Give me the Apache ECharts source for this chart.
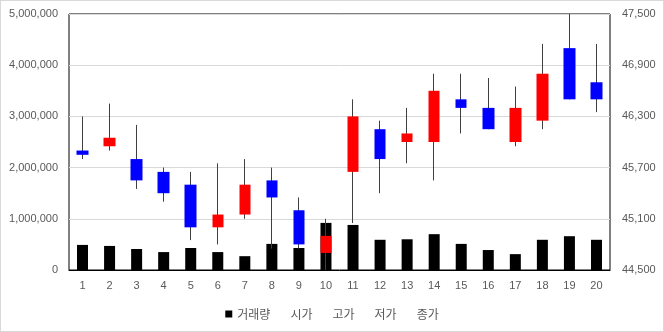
<!DOCTYPE html>
<html><head><meta charset="utf-8">
<script src="https://cdn.jsdelivr.net/npm/echarts@6/dist/echarts.min.js"></script>
<style>html,body{margin:0;padding:0;background:#fff}#c{width:662px;height:330px;border:1px solid #d9d9d9}</style>
</head><body><div id="c"></div>
<script>
const categories = ['1','2','3','4','5','6','7','8','9','10','11','12','13','14','15','16','17','18','19','20'];
const volume = [490000,470000,410000,350000,430000,350000,270000,510000,430000,920000,880000,590000,600000,700000,510000,390000,310000,590000,660000,590000];
const openP  = [45900,45950,45800,45650,45500,45000,45150,45550,45200,44700,45650,46150,46000,46000,46500,46400,46000,46250,47100,46700];
const highP  = [46300,46450,46200,45700,45650,45750,45800,45700,45350,45100,46500,46250,46400,46800,46800,46750,46650,47150,47500,47150];
const lowP   = [45800,45900,45450,45300,44850,44800,45100,44750,44750,44500,45050,45400,45750,45550,46100,46150,45950,46150,46500,46350];
const closeP = [45850,46050,45550,45400,45000,45150,45500,45350,44800,44900,46300,45800,46100,46600,46400,46150,46400,46800,46500,46500];
const legendNames = ['거래량','시가','고가','저가','종가'];

const wickData = categories.map((c,i)=>[openP[i],closeP[i],lowP[i],highP[i]]);
const bodyData = categories.map((c,i)=>[openP[i],closeP[i],Math.min(openP[i],closeP[i]),Math.max(openP[i],closeP[i])]);
const txt = '#595959';
const chart = echarts.init(document.getElementById('c'));
chart.setOption({
  animation:false,
  textStyle:{fontFamily:'"Noto Sans CJK KR", "Liberation Sans", sans-serif'},
  grid:{left:68,right:53,top:13,bottom:61,show:true,borderColor:'#000',borderWidth:1},
  legend:{
    bottom:6,left:'center',itemWidth:7,itemHeight:7,itemGap:8,
    textStyle:{color:txt,fontSize:12,fontFamily:'"Noto Sans CJK KR", sans-serif'},
    data:[
      {name:legendNames[0],icon:'rect'},
      {name:legendNames[1],icon:'none'},
      {name:legendNames[2],icon:'none'},
      {name:legendNames[3],icon:'none'},
      {name:legendNames[4],icon:'none'}
    ]
  },
  xAxis:{type:'category',data:categories,boundaryGap:true,
    axisLine:{lineStyle:{color:'#000'}},axisTick:{show:false},
    axisLabel:{color:txt,fontSize:11,margin:10,fontFamily:'"Liberation Sans", sans-serif'}},
  yAxis:[
    {type:'value',min:0,max:5000000,interval:1000000,
      axisLine:{show:false},axisTick:{show:false},
      splitLine:{lineStyle:{color:'#d9d9d9'}},
      axisLabel:{color:txt,fontSize:11,margin:11,fontFamily:'"Liberation Sans", sans-serif',formatter:v=>v.toLocaleString('en-US')}},
    {type:'value',min:44500,max:47500,interval:600,
      axisLine:{show:false},axisTick:{show:false},splitLine:{show:false},
      axisLabel:{color:txt,fontSize:11,margin:12,fontFamily:'"Liberation Sans", sans-serif',formatter:v=>v.toLocaleString('en-US')}}
  ],
  series:[
    {name:legendNames[0],type:'bar',data:volume,barWidth:11,yAxisIndex:0,itemStyle:{color:'#000'},z:2},
    {name:'wick',type:'candlestick',yAxisIndex:1,data:wickData,barWidth:1,z:3,
      itemStyle:{color:'#404040',color0:'#404040',borderColor:'#404040',borderColor0:'#404040',borderWidth:1}},
    {name:'body',type:'candlestick',yAxisIndex:1,data:bodyData,barWidth:12,z:4,
      itemStyle:{color:'#ff0000',color0:'#0000ff',borderColor:'#ff0000',borderColor0:'#0000ff',borderWidth:0}},
    {name:legendNames[1],type:'line',data:[]},
    {name:legendNames[2],type:'line',data:[]},
    {name:legendNames[3],type:'line',data:[]},
    {name:legendNames[4],type:'line',data:[]}
  ]
});
</script></body></html>
